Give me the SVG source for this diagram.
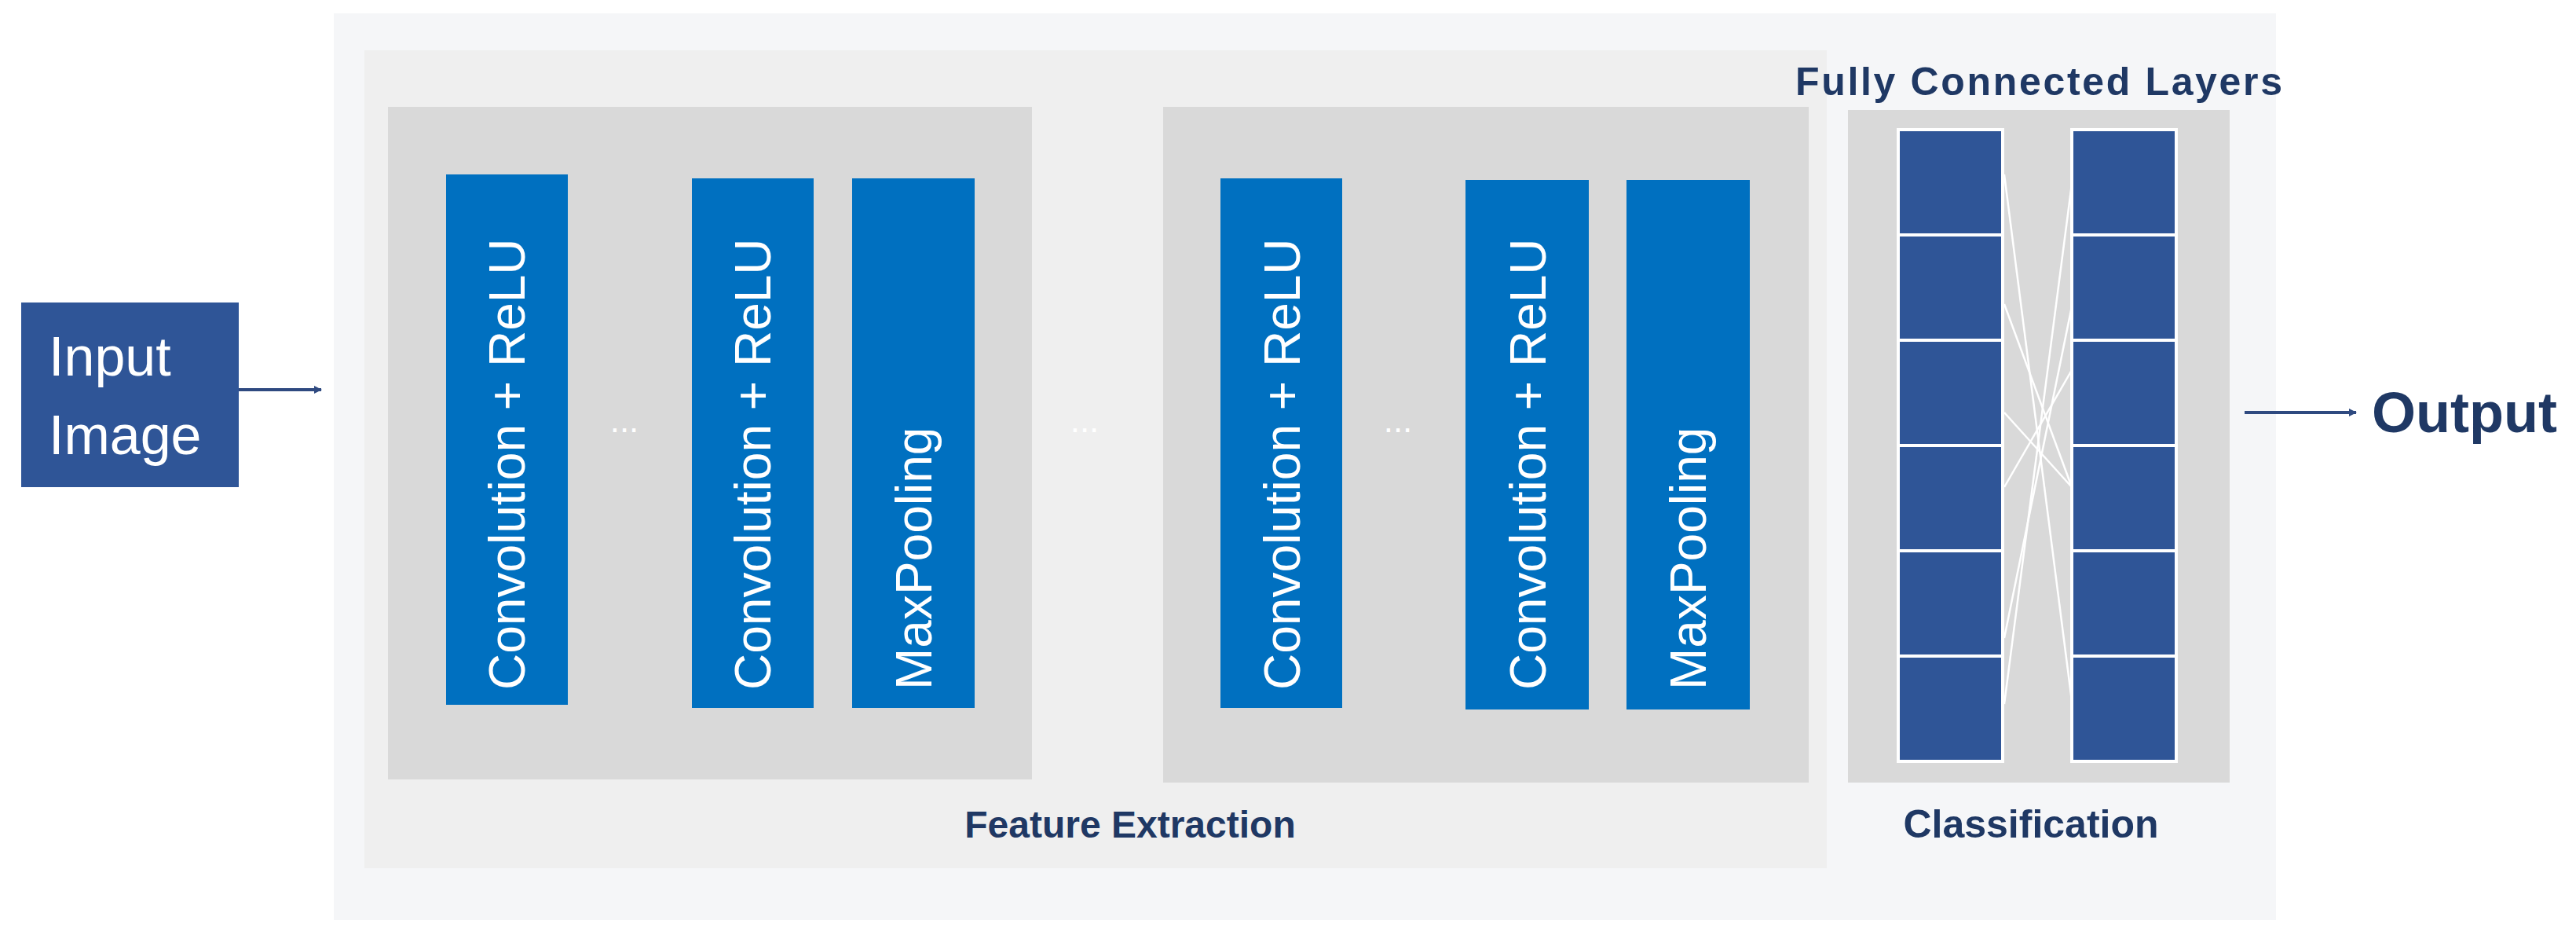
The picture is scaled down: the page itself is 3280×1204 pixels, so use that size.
<svg xmlns="http://www.w3.org/2000/svg" width="3280" height="1204" viewBox="0 0 3280 1204">
<style>
.bar{fill:#0070C0}
.bt{font-family:"Liberation Sans",Arial,sans-serif;font-size:64px;fill:#fff}
.lbl{font-family:"Liberation Sans",Arial,sans-serif;font-weight:bold;fill:#1F3864}
.dots{font-family:"Liberation Sans",Arial,sans-serif;font-size:44px;fill:#fff;text-anchor:middle}
.fc{fill:#2F5597;stroke:#fff;stroke-width:4}
</style>
<defs>
<marker id="ah" markerWidth="10" markerHeight="10" refX="9" refY="5" orient="auto" markerUnits="userSpaceOnUse" viewBox="0 0 10 10"><path d="M0,0L10,5L0,10z" fill="#2F4A80"/></marker>
</defs>
<rect width="3280" height="1204" fill="#fff"/>
<rect x="425" y="17" width="2473" height="1154" fill="#F5F6F8"/>
<rect x="464" y="64" width="1862" height="1041" fill="#EFEFEF"/>
<g id="block1">
<rect x="494" y="136" width="820" height="856" fill="#D9D9D9"/>
<rect class="bar" x="568" y="222" width="155" height="675"/>
<text class="bt" transform="translate(668,878) rotate(-90)">Convolution + ReLU</text>
<text class="dots" x="795" y="550">...</text>
<rect class="bar" x="881" y="227" width="155" height="674"/>
<text class="bt" transform="translate(981,878) rotate(-90)">Convolution + ReLU</text>
<rect class="bar" x="1085" y="227" width="156" height="674"/>
<text class="bt" transform="translate(1186,878) rotate(-90)">MaxPooling</text>
</g>
<text class="dots" x="1381" y="550">...</text>
<g id="block2">
<rect x="1481" y="136" width="822" height="860" fill="#D9D9D9"/>
<rect class="bar" x="1554" y="227" width="155" height="674"/>
<text class="bt" transform="translate(1655,878) rotate(-90)">Convolution + ReLU</text>
<text class="dots" x="1780" y="550">...</text>
<rect class="bar" x="1866" y="229" width="157" height="674"/>
<text class="bt" transform="translate(1968,878) rotate(-90)">Convolution + ReLU</text>
<rect class="bar" x="2071" y="229" width="157" height="674"/>
<text class="bt" transform="translate(2172,878) rotate(-90)">MaxPooling</text>
</g>
<text class="lbl" x="1439" y="1066" font-size="48" text-anchor="middle">Feature Extraction</text>
<g id="input">
<rect x="27" y="385" width="277" height="235" fill="#2F5597"/>
<text x="62" y="478" font-family="Liberation Sans,Arial,sans-serif" font-size="70" fill="#fff">Input</text>
<text x="62" y="578" font-family="Liberation Sans,Arial,sans-serif" font-size="70" fill="#fff">Image</text>
</g>
<g id="classification">
<rect x="2353" y="140" width="486" height="856" fill="#D9D9D9"/>
<rect class="fc" x="2417" y="165" width="133" height="134"/>
<rect class="fc" x="2417" y="299" width="133" height="134"/>
<rect class="fc" x="2417" y="433" width="133" height="134"/>
<rect class="fc" x="2417" y="567" width="133" height="134"/>
<rect class="fc" x="2417" y="701" width="133" height="134"/>
<rect class="fc" x="2417" y="835" width="133" height="134"/>
<rect class="fc" x="2638" y="165" width="133" height="134"/>
<rect class="fc" x="2638" y="299" width="133" height="134"/>
<rect class="fc" x="2638" y="433" width="133" height="134"/>
<rect class="fc" x="2638" y="567" width="133" height="134"/>
<rect class="fc" x="2638" y="701" width="133" height="134"/>
<rect class="fc" x="2638" y="835" width="133" height="134"/>
<g stroke="#fff" stroke-width="2.5">
<line x1="2552" y1="222" x2="2638" y2="892"/>
<line x1="2552" y1="387" x2="2638" y2="620"/>
<line x1="2552" y1="525" x2="2638" y2="620"/>
<line x1="2552" y1="620" x2="2638" y2="471"/>
<line x1="2552" y1="812" x2="2638" y2="390"/>
<line x1="2552" y1="896" x2="2638" y2="234"/>
</g>
<text class="lbl" x="2596" y="121" font-size="50" text-anchor="middle" textLength="620">Fully Connected Layers</text>
<text class="lbl" x="2586" y="1066" font-size="50" text-anchor="middle">Classification</text>
</g>
<g id="output">
<text class="lbl" x="3020" y="550" font-size="72">Output</text>
</g>
<g id="connectors" stroke="#2F4A80" stroke-width="4" fill="none">
<line x1="304" y1="496" x2="409" y2="496" marker-end="url(#ah)"/>
<line x1="2858" y1="525" x2="3000" y2="525" marker-end="url(#ah)"/>
</g>
</svg>
